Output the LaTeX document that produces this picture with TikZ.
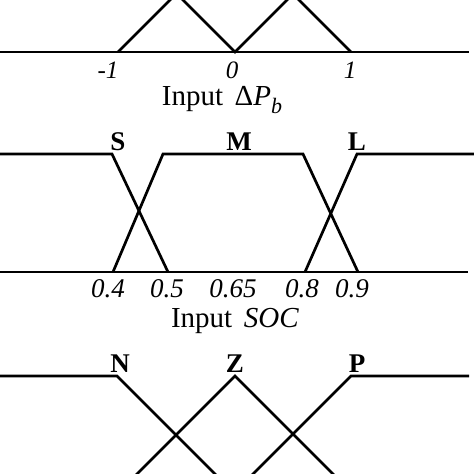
\documentclass[tikz,border=0pt]{standalone}
\usepackage{fontspec}
\setmainfont{Liberation Serif}
\begin{document}
\begin{tikzpicture}[x=1pt,y=-1pt,
  curve/.style={line width=2.7pt},
  lab/.style={font=\fontsize{27}{30}\selectfont\bfseries, anchor=base, inner sep=0pt},
  num/.style={font=\fontsize{27}{30}\selectfont\itshape, anchor=base, inner sep=0pt},
  topnum/.style={font=\fontsize{25}{28}\selectfont\itshape, anchor=base, inner sep=0pt},
  axlab/.style={font=\fontsize{29}{32}\selectfont, anchor=base, inner sep=0pt}]
\useasboundingbox (0,0) rectangle (474,474);
\clip (0,0) rectangle (474,474);
% panel 1
\draw[curve] (0,52) -- (469,52);
\draw[curve] (118,52) -- (176.5,-6.5) -- (235,52) -- (293,-6) -- (351,52);
\node[topnum] (n1) at (108,78) {-1};
\node[topnum] (n2) at (232,78) {0};
\node[topnum] (n3) at (350,78) {1};
\node[axlab] (in1) at (222,105) {Input\hspace{0.4em}Δ\textit{P}\raisebox{-0.3em}{\fontsize{22}{24}\selectfont\textit{b}}};
% panel 2
\draw[curve] (0,272) -- (468,272);
\draw[curve] (0,154) -- (112,154) -- (168,272);
\draw[curve] (113,272) -- (163,154) -- (303,154) -- (358,272);
\draw[curve] (305,272) -- (357,154) -- (474,154);
\node[lab] (S) at (118,150) {S};
\node[lab] (M) at (239,150) {M};
\node[lab] (L) at (357,150) {L};
\node[num] (v1) at (108,297) {0.4};
\node[num] (v2) at (167,297) {0.5};
\node[num] (v3) at (233,297) {0.65};
\node[num] (v4) at (302,297) {0.8};
\node[num] (v5) at (352,297) {0.9};
\node[axlab] (in2) at (235,327) {Input\hspace{0.4em}\textit{SOC}};
% panel 3
\draw[curve] (0,376) -- (117,376) -- (227,486);
\draw[curve] (125,486) -- (235,376) -- (345,486);
\draw[curve] (469,376) -- (351,376) -- (241,486);
\node[lab] (N) at (120,372) {N};
\node[lab] (Z) at (235,372) {Z};
\node[lab] (P) at (357,372) {P};
\end{tikzpicture}
\end{document}
